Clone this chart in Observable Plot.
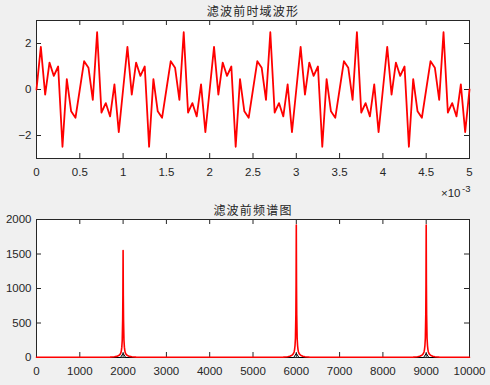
<!DOCTYPE html>
<html><head><meta charset="utf-8">
<script src="https://cdn.jsdelivr.net/npm/d3@7"></script>
<script src="https://cdn.jsdelivr.net/npm/@observablehq/plot@0.6"></script>
<style>
html,body{margin:0;padding:0;background:#f0f0f0;width:490px;height:385px;overflow:hidden}
#chart svg{display:block}
</style></head><body><div id="chart"></div>
<script>
// ---- Data: top subplot (time-domain waveform, time in ms, step 0.05 ms) ----
const topTitle = "滤波前时域波形";
const sampleStepMs = 0.05;
const waveValues = [
  0, 1.85, -0.22, 1.17, 0.59, 1.00, -2.49, 0.45, -0.95, -1.23,
  0, 1.23, 0.95, -0.45, 2.49, -1.00, -0.59, -1.17, 0.22, -1.85,
  0, 1.85, -0.22, 1.17, 0.59, 1.00, -2.49, 0.45, -0.95, -1.23,
  0, 1.23, 0.95, -0.45, 2.49, -1.00, -0.59, -1.17, 0.22, -1.85,
  0, 1.85, -0.22, 1.17, 0.59, 1.00, -2.49, 0.45, -0.95, -1.23,
  0, 1.23, 0.95, -0.45, 2.49, -1.00, -0.59, -1.17, 0.22, -1.85,
  0, 1.85, -0.22, 1.17, 0.59, 1.00, -2.49, 0.45, -0.95, -1.23,
  0, 1.23, 0.95, -0.45, 2.49, -1.00, -0.59, -1.17, 0.22, -1.85,
  0, 1.85, -0.22, 1.17, 0.59, 1.00, -2.49, 0.45, -0.95, -1.23,
  0, 1.23, 0.95, -0.45, 2.49, -1.00, -0.59, -1.17, 0.22, -1.85,
  0
];
const timeTicks = [0, 0.5, 1, 1.5, 2, 2.5, 3, 3.5, 4, 4.5, 5];
const ampTicks = [-2, 0, 2];
const timeExponentBase = "×10";
const timeExponent = "-3";

// ---- Data: bottom subplot (spectrum) ----
const bottomTitle = "滤波前频谱图";
const specFreq = [0,1000,1500,1700,1800,1850,1900,1930,1950,1960,1970,1980,1990,1995,2000,2005,2010,2020,2030,2040,2050,2070,2100,2150,2200,2300,2500,3500,5000,5500,5700,5800,5850,5900,5930,5950,5960,5970,5980,5990,5995,6000,6005,6010,6020,6030,6040,6050,6070,6100,6150,6200,6300,6500,7500,8500,8700,8800,8850,8900,8930,8950,8960,8970,8980,8990,8995,9000,9005,9010,9020,9030,9040,9050,9070,9100,9150,9200,9300,9500,10000];
const specMag  = [4,4,4,5,10,16,28,45,70,100,150,250,550,900,1550,900,550,250,150,100,70,45,28,16,10,5,4,4,4,4,6,12,19,33,52,80,115,170,280,620,1050,1920,1050,620,280,170,115,80,52,33,19,12,6,4,4,4,6,12,19,33,52,80,115,170,280,620,1050,1920,1050,620,280,170,115,80,52,33,19,12,6,4,4];
const refFreq = [0,1940,2000,2060,5940,6000,6060,8940,9000,9060,10000];
const refMag  = [0,0,60,0,0,60,0,0,60,0,0];
const freqTicks = [0,1000,2000,3000,4000,5000,6000,7000,8000,9000,10000];
const magTicks = [0,500,1000,1500,2000];

// ---- Build ----
const axisColor = "#262626";
const tickLen = 5;
const W = 490;
const ml = 36, mr = 21;
const innerW = W - ml - mr;
const labelFont = "'Liberation Sans', Arial, sans-serif";
const titleFont = "'Noto Sans CJK SC', sans-serif";
const plainFmt = d3.format("~g");

const wave = waveValues.map((v, i) => ({t: i * sampleStepMs, v}));
const spec = specFreq.map((f, i) => ({f, m: specMag[i]}));
const ref = refFreq.map((f, i) => ({f, m: refMag[i]}));

function boxMarks(xTicks, yTicks, innerH) {
  return [
    Plot.tickX(xTicks, {x: d => d, insetTop: innerH - tickLen, stroke: axisColor}),
    Plot.tickX(xTicks, {x: d => d, insetBottom: innerH - tickLen, stroke: axisColor}),
    Plot.tickY(yTicks, {y: d => d, insetRight: innerW - tickLen, stroke: axisColor}),
    Plot.tickY(yTicks, {y: d => d, insetLeft: innerW - tickLen, stroke: axisColor}),
    Plot.frame({stroke: axisColor, fill: "none"}),
    Plot.axisX(xTicks, {tickSize: 0, tickPadding: 9, label: null, fill: axisColor, tickFormat: plainFmt}),
    Plot.axisY(yTicks, {tickSize: 0, tickPadding: 5, label: null, fill: axisColor, tickFormat: plainFmt})
  ];
}

const topH = 200, mtTop = 20, mbTop = 42;
const topPlot = Plot.plot({
  width: W, height: topH,
  marginLeft: ml, marginRight: mr, marginTop: mtTop, marginBottom: mbTop,
  style: {background: "transparent", fontFamily: labelFont, fontSize: "11.5px", color: axisColor, overflow: "visible"},
  x: {domain: [0, 5]},
  y: {domain: [-3, 3]},
  marks: [
    Plot.frame({fill: "white", stroke: "none"}),
    ...boxMarks(timeTicks, ampTicks, topH - mtTop - mbTop),
    Plot.line(wave, {x: "t", y: "v", stroke: "#ff0000", strokeWidth: 1.8}),
    Plot.text([topTitle], {frameAnchor: "top", lineAnchor: "middle", dy: -8, fontFamily: titleFont, fontSize: 12, fill: axisColor}),
    Plot.text([timeExponentBase], {frameAnchor: "bottom-right", lineAnchor: "middle", dx: -9, dy: 34.5, textAnchor: "end", fill: axisColor, fontSize: 11.5}),
    Plot.text([timeExponent], {frameAnchor: "bottom-right", lineAnchor: "middle", dx: 1, dy: 30, textAnchor: "end", fill: axisColor, fontSize: 9.5})
  ]
});

const botH = 185, mtBot = 19, mbBot = 28;
const botPlot = Plot.plot({
  width: W, height: botH,
  marginLeft: ml, marginRight: mr, marginTop: mtBot, marginBottom: mbBot,
  style: {background: "transparent", fontFamily: labelFont, fontSize: "11.5px", color: axisColor, overflow: "visible"},
  x: {domain: [0, 10000]},
  y: {domain: [0, 2000]},
  marks: [
    Plot.frame({fill: "white", stroke: "none"}),
    ...boxMarks(freqTicks, magTicks, botH - mtBot - mbBot),
    Plot.line(ref, {x: "f", y: "m", stroke: "#000000", strokeWidth: 1}),
    Plot.line(spec, {x: "f", y: "m", stroke: "#ff0000", strokeWidth: 1.6}),
    Plot.text([bottomTitle], {frameAnchor: "top", lineAnchor: "middle", dy: -8.5, fontFamily: titleFont, fontSize: 12, fill: axisColor})
  ]
});

const host = document.getElementById("chart");
host.appendChild(topPlot);
host.appendChild(botPlot);
for (const svg of [topPlot, botPlot]) {
  d3.select(svg).selectAll("text").filter(function () {
    const s = this.textContent;
    return s === topTitle || s === bottomTitle;
  }).attr("letter-spacing", "1.2px");
}
</script></body></html>
